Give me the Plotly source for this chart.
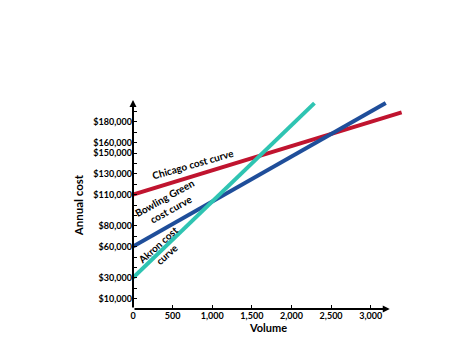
import plotly.graph_objects as go

# Data
volume_chicago = [0, 3390]
cost_chicago = [110000, 189000]
volume_bowling = [0, 3190]
cost_bowling = [60000, 198000]
volume_akron = [0, 2290]
cost_akron = [30000, 198000]

y_tick_vals = list(range(10000, 200000, 10000))
y_labels = {10000: "$10,000", 30000: "$30,000", 60000: "$60,000", 80000: "$80,000",
            110000: "$110,000", 130000: "$130,000", 150000: "$150,000",
            160000: "$160,000", 180000: "$180,000"}
y_tick_text = [y_labels.get(v, "") for v in y_tick_vals]
x_tick_vals = [0, 500, 1000, 1500, 2000, 2500, 3000]
x_tick_text = ["0", "500", "1,000", "1,500", "2,000", "2,500", "3,000"]

FONT = "Lato"

fig = go.Figure()
fig.add_trace(go.Scatter(x=volume_chicago, y=cost_chicago, mode="lines",
                         line=dict(color="#c0142f", width=4), cliponaxis=False))
fig.add_trace(go.Scatter(x=volume_bowling, y=cost_bowling, mode="lines",
                         line=dict(color="#1f4e9a", width=4), cliponaxis=False))
fig.add_trace(go.Scatter(x=volume_akron, y=cost_akron, mode="lines",
                         line=dict(color="#2fc4b2", width=4), cliponaxis=False))

# axis lines with arrows
fig.add_annotation(x=3240, y=0, ax=0, ay=0, xref="x", yref="y", axref="x", ayref="y",
                   showarrow=True, arrowhead=2, arrowsize=0.7, arrowwidth=2, arrowcolor="black", text="")
fig.add_annotation(x=0, y=201000, ax=0, ay=0, xref="x", yref="y", axref="x", ayref="y",
                   showarrow=True, arrowhead=2, arrowsize=0.7, arrowwidth=2, arrowcolor="black", text="")

ann_font = dict(family=FONT, size=10, color="black", weight="bold")
fig.add_annotation(x=760, y=139000, text="Chicago cost curve", showarrow=False,
                   textangle=-16, font=ann_font)
fig.add_annotation(x=440, y=101000, text="Bowling Green<br>cost curve", showarrow=False,
                   textangle=-29, font=ann_font)
fig.add_annotation(x=370, y=57500, text="Akron cost<br>curve", showarrow=False,
                   textangle=-42, font=ann_font)

fig.update_layout(
    width=474, height=355,
    margin=dict(l=133, r=70, t=101, b=46),
    plot_bgcolor="white", paper_bgcolor="white",
    showlegend=False,
    font=dict(family=FONT, color="black"),
    xaxis=dict(range=[0, 3420], tickvals=x_tick_vals, ticktext=x_tick_text,
               ticks="inside", ticklen=4, tickwidth=1, tickcolor="black",
               showgrid=False, zeroline=False, showline=False,
               tickfont=dict(family=FONT, size=9, weight="bold"),
               title=dict(text="Volume", font=dict(family=FONT, size=11, weight="bold"), standoff=3)),
    yaxis=dict(range=[0, 200000], tickvals=y_tick_vals, ticktext=y_tick_text,
               ticks="inside", ticklen=4, tickwidth=1, tickcolor="black",
               showgrid=False, zeroline=False, showline=False,
               tickfont=dict(family=FONT, size=9, weight="bold"),
               title=dict(text="Annual cost", font=dict(family=FONT, size=11.5, weight="bold"), standoff=7)),
)

fig.write_html("out.html")
